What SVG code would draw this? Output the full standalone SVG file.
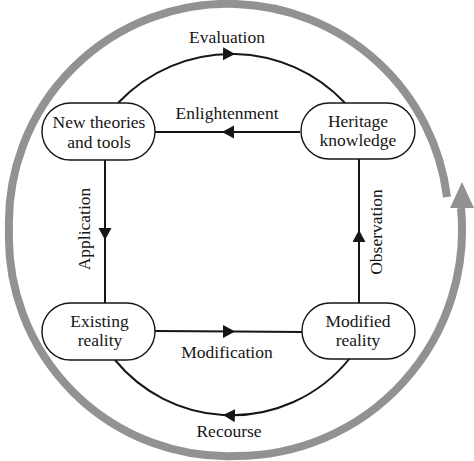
<svg xmlns="http://www.w3.org/2000/svg" width="474" height="461" viewBox="0 0 474 461">
  <style>
    text { font-family: "Liberation Serif", "Times New Roman", serif; font-size: 17.5px; fill: #161616; text-anchor: middle; }
    .node rect { fill: #ffffff; stroke: #161616; stroke-width: 1.4; }
    .conn { fill: none; stroke: #161616; stroke-width: 2; marker-mid: url(#arrow); }
    .cycle { fill: none; stroke: #929292; stroke-width: 8; }
  </style>
  <defs>
    <marker id="arrow" markerUnits="userSpaceOnUse" markerWidth="14" markerHeight="14" refX="12" refY="6.5" orient="auto">
      <path d="M0,0 L12,6.5 L0,13 Z" fill="#161616"/>
    </marker>
  </defs>
  <rect width="474" height="461" fill="#ffffff"/>

  <g id="outer-cycle">
    <path class="cycle" d="M447,197 A220,220 0 0 0 236,4 A219,219 0 0 0 9,230 A219,219 0 0 0 236,456 A226,226 0 0 0 461,208"/>
    <path d="M450,208 L474,208 L462,182 Z" fill="#929292"/>
  </g>

  <g id="connectors">
    <path class="conn" d="M118,103 A156,156 0 0 1 235,54 A156,156 0 0 1 345,103"/>
    <path class="conn" d="M300,132 L222,132 L155,132"/>
    <path class="conn" d="M105,160 L105,240 L105,303"/>
    <path class="conn" d="M359,303 L359,230 L359,159"/>
    <path class="conn" d="M155,331 L235,331.5 L302,332"/>
    <path class="conn" d="M350,358 A151,151 0 0 1 223,415 A151,151 0 0 1 115,360"/>
  </g>

  <g id="labels">
    <text x="227" y="43">Evaluation</text>
    <text x="227" y="119">Enlightenment</text>
    <text x="227" y="358">Modification</text>
    <text x="229" y="437">Recourse</text>
    <text transform="translate(90,229) rotate(-90)">Application</text>
    <text transform="translate(382,232) rotate(-90)">Observation</text>
  </g>

  <g id="node-new-theories" class="node">
    <rect x="42" y="103" width="113" height="57" rx="28.5"/>
    <text x="99" y="128">New theories</text>
    <text x="99" y="147.5">and tools</text>
  </g>
  <g id="node-heritage" class="node">
    <rect x="301" y="103" width="114" height="56" rx="28"/>
    <text x="358" y="127">Heritage</text>
    <text x="358" y="145.5">knowledge</text>
  </g>
  <g id="node-existing" class="node">
    <rect x="42" y="303" width="113" height="57" rx="28.5"/>
    <text x="99.5" y="327">Existing</text>
    <text x="100" y="346">reality</text>
  </g>
  <g id="node-modified" class="node">
    <rect x="302" y="303" width="113" height="56" rx="28"/>
    <text x="358" y="326.5">Modified</text>
    <text x="358" y="345.5">reality</text>
  </g>
</svg>
